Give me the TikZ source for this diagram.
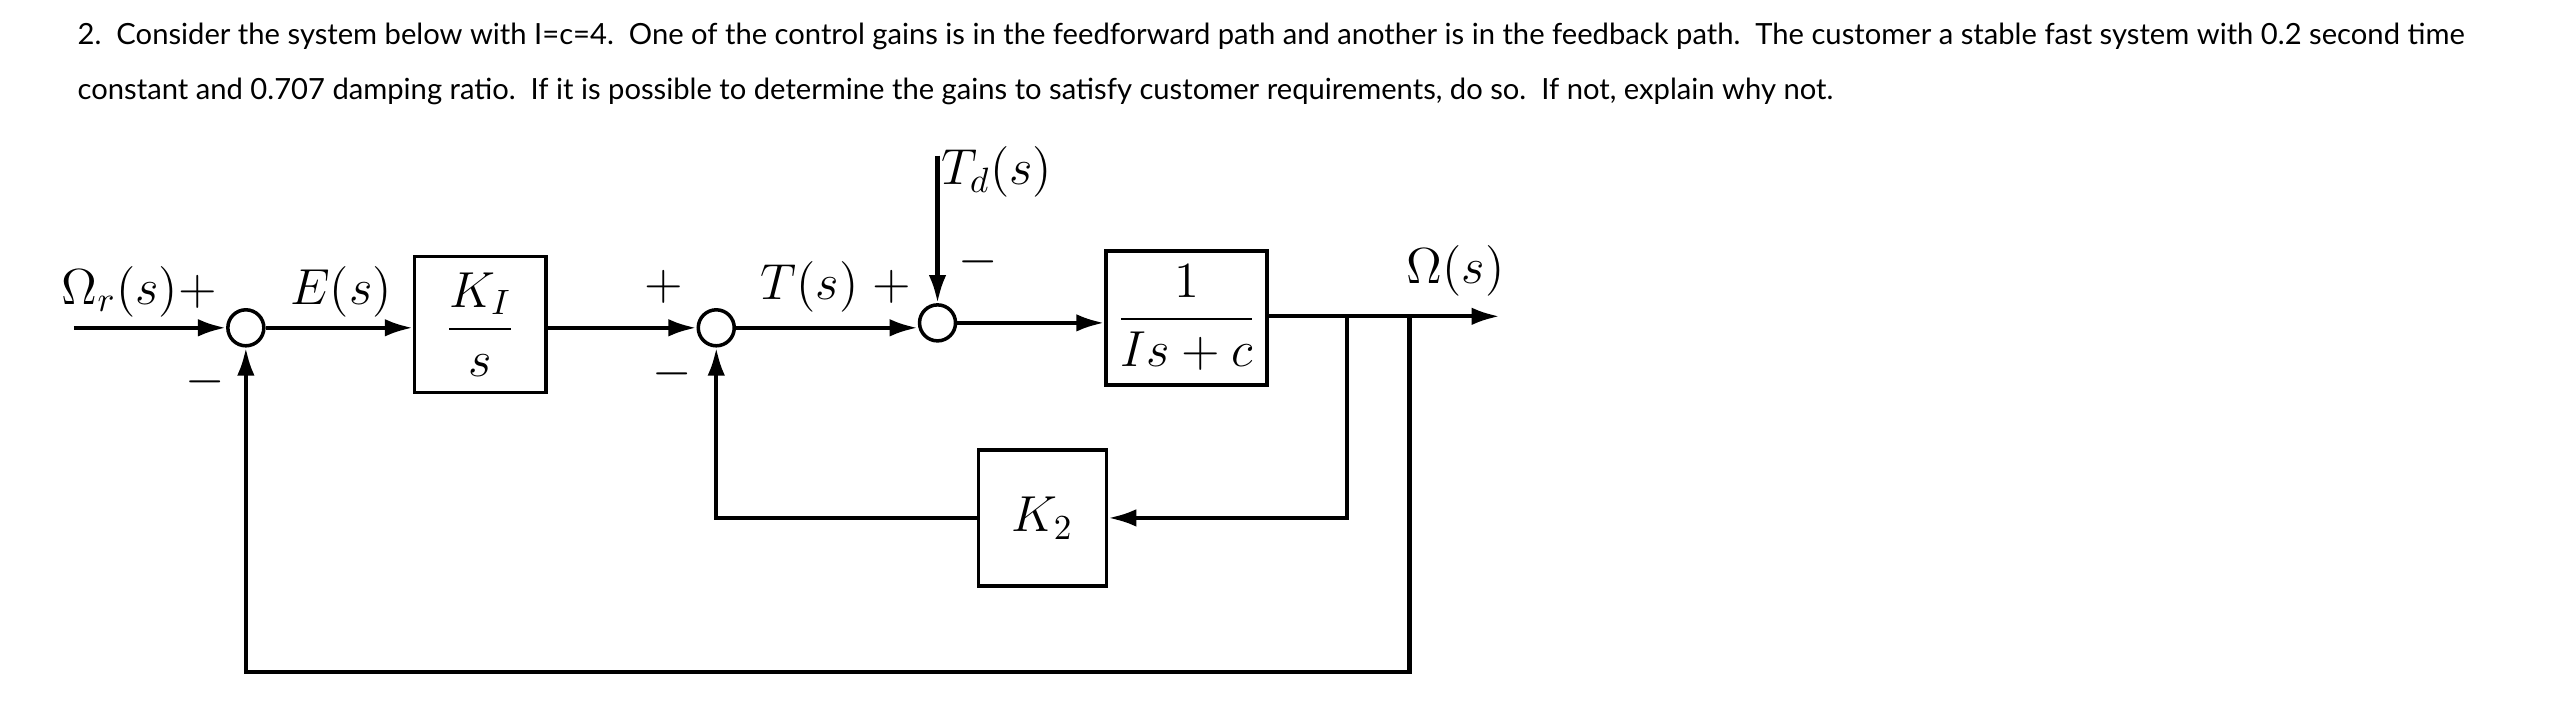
\documentclass[tikz,border=0pt]{standalone}
\usepackage{amsmath}
\usepackage{fontspec}
\newfontfamily\qfont{Lato}
\usetikzlibrary{arrows.meta}
\begin{document}
\begin{tikzpicture}[x=0.01639cm,y=-0.01639cm,
  blk/.style={draw,line width=1pt,inner sep=0pt},
  sumc/.style={draw,circle,line width=1pt,inner sep=0pt},
  ln/.style={line width=1.2pt},
  arr/.style={ln,-{Latex[length=8pt,width=5pt]}},
  lab/.style={font=\Large}]
\useasboundingbox[fill=white] (0,0) rectangle (1568,435);
\node[anchor=west,font=\qfont\fontsize{8.3}{10}\selectfont,inner sep=0] (l1) at (47,22) {2.\ \ Consider the system below with I=c=4.\ \ One of the control gains is in the feedforward path and another is in the feedback path.\ \ The customer a stable fast system with 0.2 second time};
\node[anchor=west,font=\qfont\fontsize{8.3}{10}\selectfont,inner sep=0] (l2) at (47,56) {constant and 0.707 damping ratio.\ \ If it is possible to determine the gains to satisfy customer requirements, do so.\ \ If not, explain why not.};
\node[sumc,minimum size=0.36cm] (s1) at (150,200) {};
\node[sumc,minimum size=0.36cm] (s2) at (437,200) {};
\node[sumc,minimum size=0.36cm] (s3) at (572,197) {};
\node[blk,minimum width=1.31cm,minimum height=1.36cm] (ki) at (293,198) {\Large$\dfrac{K_I}{s}$};
\node[blk,minimum width=1.61cm,minimum height=1.34cm] (g) at (724,194) {\Large$\dfrac{1}{Is+c}$};
\node[blk,minimum width=1.28cm,minimum height=1.36cm] (k2) at (636,316) {\Large$K_2$};
\coordinate (in) at (45,200);
\coordinate (out) at (915,193);
\coordinate (b1) at (822,193);
\coordinate (b2) at (860,193);
\coordinate (td) at (572,95);
\draw[arr] (in) -- (s1);
\draw[arr] (s1) -- (ki.west|-s1);
\draw[arr] (ki.east|-s2) -- (s2);
\draw[arr] (s2) -- (s3.west|-s2);
\draw[arr] (s3) -- (g.west|-s3);
\draw[arr] (g.east|-out) -- (out);
\draw[arr] (td) -- (s3);
\draw[arr] (b1) -- (822,316) -- (k2.east);
\draw[arr] (k2.west) -- (437,316) -- (s2);
\draw[arr] (b2) -- (860,410) -- (150,410) -- (s1);
\node[lab] (t1) at (85,178) {$\Omega_r(s)+$};
\node[lab] (t2) at (125,233) {$-$};
\node[lab] (t3) at (208,178) {$E(s)$};
\node[lab] (t4) at (405,175) {$+$};
\node[lab] (t5) at (410,228) {$-$};
\node[lab] (t6) at (510,175) {$T(s)\;+$};
\node[lab] (t7) at (597,160) {$-$};
\node[lab] (t8) at (608,105) {$T_d(s)$};
\node[lab] (t9) at (888,165) {$\Omega(s)$};
\end{tikzpicture}
\end{document}
